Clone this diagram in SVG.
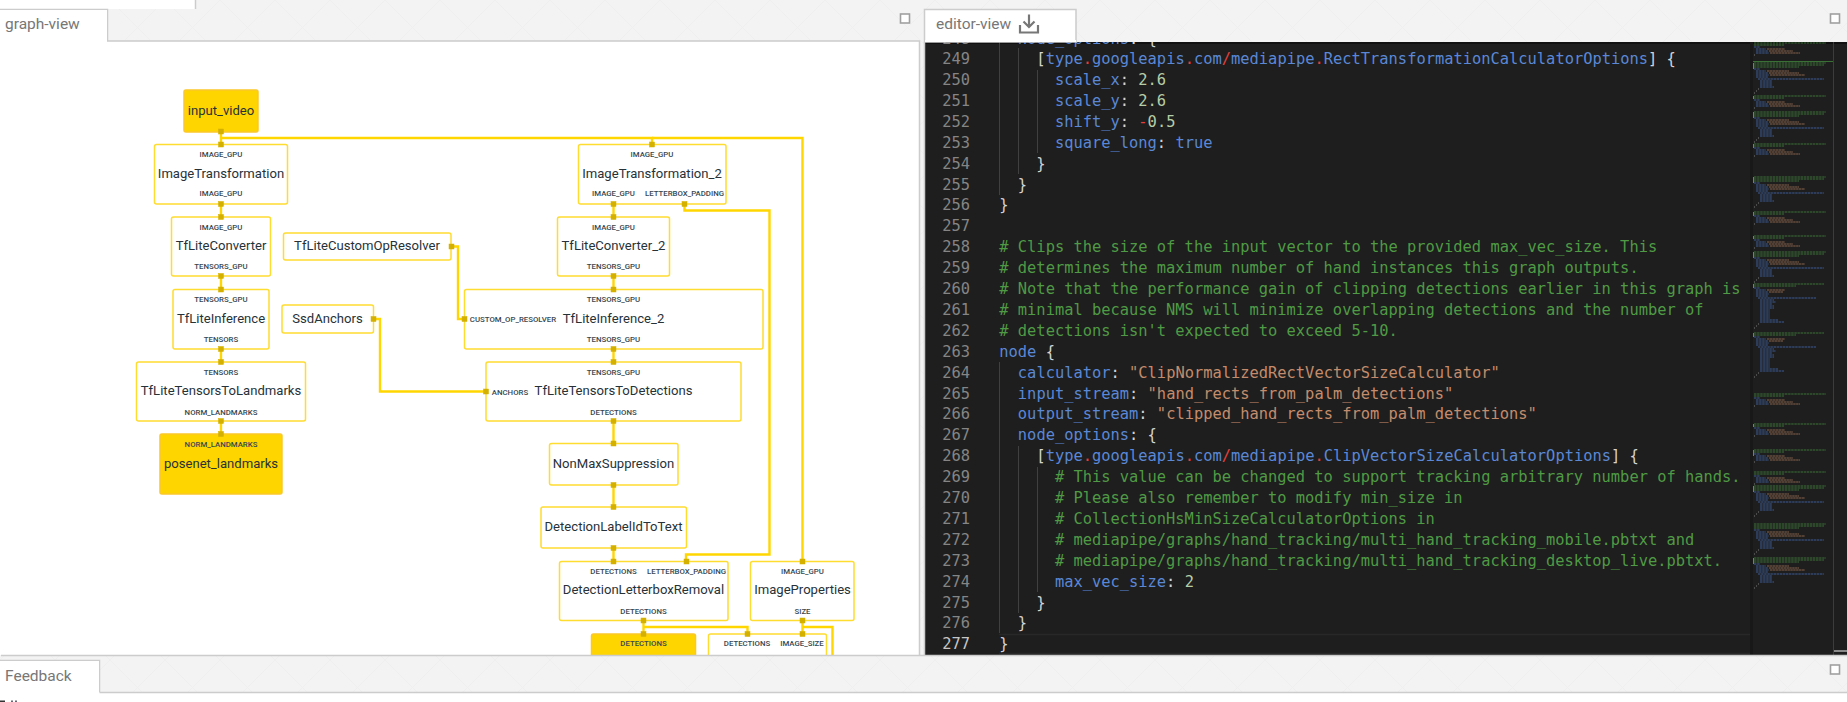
<svg xmlns="http://www.w3.org/2000/svg" width="1847" height="702" viewBox="0 0 1847 702">
<style>
text{font-family:Roboto,"Liberation Sans",sans-serif}
.n{fill:#fff;stroke:#ffdc30;stroke-width:1.5}
.y{fill:#ffd500;stroke:#fbc72a;stroke-width:1.5}
.nm{font-size:13.1px;fill:#263238;text-anchor:middle}
.lb{font-size:7.800px;font-weight:500;fill:#37474f;text-anchor:middle}
.p{fill:#d4b000;stroke:#d4b000;stroke-width:.5}
.e{fill:none;stroke:#ffd600;stroke-width:2.400}
.tab{font-size:15.500px;fill:#777}
.bd{fill:none;stroke:#ccc;stroke-width:1.5}
.ic{fill:#fff;stroke:#a0a0a0;stroke-width:1.6}
.code{font-family:"DejaVu Sans Mono","Liberation Mono",monospace;font-size:15.4px;fill:#d4d4d4}
.ln{font-family:"DejaVu Sans Mono","Liberation Mono",monospace;font-size:15.4px;fill:#858585;text-anchor:end}
.k{fill:#5a88d6}.d{fill:#e2403c}.v{fill:#b5cea8}.s{fill:#c48c6c}.c{fill:#4f9a45}
.g{stroke:#404040;stroke-width:1;fill:none}
.mg{fill:none;stroke:#3a7035;stroke-width:1.100;stroke-dasharray:2.500 .6}
.mb{fill:none;stroke:#3d5a92;stroke-width:1.100;stroke-dasharray:2.500 .6}
.mr{fill:none;stroke:#86634d;stroke-width:1.100;stroke-dasharray:2.500 .4}
.mw{fill:none;stroke:#777;stroke-width:1.100}
</style>
<defs>
<pattern id="bgp" width="55" height="55" patternUnits="userSpaceOnUse">
<rect width="55" height="55" fill="#f3f3f3"/>
<path d="M0 0L55 55M55 0L0 55" stroke="#efefef" stroke-width="1"/>
</pattern>
<clipPath id="graphClip"><rect x="0" y="42" width="919" height="613"/></clipPath>
<clipPath id="codeClip"><rect x="925" y="42" width="922" height="613"/></clipPath>
<g id="mA">
<path class="mg" d="M1 1h72M1 3h70M1 5h45"/>
<path class="mb" d="M1 7h6M3 9h10M3 11h12M3 13h13M3 15h12M5 17h66M7 19h12M7 21h12M7 23h12M7 25h14"/>
<path class="mr" d="M14 9h22M16 11h30M17 13h35"/>
<path class="mw" d="M5 27h1M3 29h1M1 31h1"/>
</g>
<g id="mB">
<path class="mg" d="M1 1h72M1 3h30"/>
<path class="mb" d="M1 5h6M3 7h10M3 9h12M3 11h13"/>
<path class="mr" d="M14 7h18M16 9h24M17 11h30"/>
<path class="mw" d="M1 13h1"/>
</g>
<g id="mD">
<path class="mg" d="M1 1h70M1 3h42"/>
<path class="mb" d="M1 5h6M3 7h10M3 9h12M3 11h13M3 13h12M5 15h58M7 17h14M7 19h16M7 21h12M7 23h14M7 25h14M7 27h10M7 29h10M7 31h10M7 33h10M7 35h10M7 37h18M7 39h24"/>
<path class="mr" d="M14 7h18M16 9h14"/>
<path class="mw" d="M5 41h1M3 43h1M1 45h1"/>
</g>
</defs>

<rect width="1847" height="702" fill="url(#bgp)"/>
<rect x="0" y="693" width="1847" height="9" fill="#fff"/>
<rect x="0" y="0" width="195" height="9" fill="#fff"/>
<path class="bd" d="M195.500 0V9"/>

<g id="graph-panel">
<rect x="0" y="41" width="919" height="614" fill="#fff"/>
<path class="bd" d="M107 41H919.500V655"/>
<path d="M0 9.500H107.500V41" fill="#fff" stroke="#ccc" stroke-width="1.500"/>
<rect x="0" y="10" width="107" height="32" fill="#fff"/>
<text class="tab" x="5" y="29">graph-view</text>
<rect class="ic" x="900.500" y="14" width="9" height="9"/>
</g>

<g clip-path="url(#graphClip)">
<g id="connectors">
<path class="e" d="M221 132V144.500"/>
<path class="e" d="M221 138H652V144.500"/>
<path class="e" d="M652 138H802.500V561.500"/>
<path class="e" d="M221 204V217"/>
<path class="e" d="M221 276V289.500"/>
<path class="e" d="M221 349V362"/>
<path class="e" d="M221 421V434"/>
<path class="e" d="M451 246.500H458V319H464.500"/>
<path class="e" d="M373 319H380V391.500H486"/>
<path class="e" d="M613.500 204V217"/>
<path class="e" d="M684.500 204V210.500H769.500V554.500H686V561.500"/>
<path class="e" d="M613.500 276V289.500"/>
<path class="e" d="M613.500 349V362"/>
<path class="e" d="M613.500 421V443.500"/>
<path class="e" d="M613.500 485V507"/>
<path class="e" d="M613.500 548V561.500"/>
<path class="e" d="M643.500 620.500V634"/>
<path class="e" d="M643.500 627H747.500V634"/>
<path class="e" d="M802.500 620.500V634"/>
<path class="e" d="M802.500 627H832.500V660"/>
</g>

<g id="input_video">
<rect class="y" x="184" y="90" width="74" height="42" rx="2"/>
<text class="nm" x="221" y="114.500">input_video</text>
<rect class="p" x="218.500" y="129" width="5" height="5"/>
</g>
<g id="ImageTransformation">
<rect class="n" x="154.500" y="144.500" width="133" height="59.500" rx="2"/>
<text class="lb" x="221" y="157">IMAGE_GPU</text>
<text class="nm" x="221" y="178">ImageTransformation</text>
<text class="lb" x="221" y="196">IMAGE_GPU</text>
<rect class="p" x="218.500" y="142" width="5" height="5"/>
<rect class="p" x="218.500" y="201.500" width="5" height="5"/>
</g>
<g id="TfLiteConverter">
<rect class="n" x="171.500" y="217" width="99" height="59" rx="2"/>
<text class="lb" x="221" y="229.500">IMAGE_GPU</text>
<text class="nm" x="221" y="250">TfLiteConverter</text>
<text class="lb" x="221" y="269">TENSORS_GPU</text>
<rect class="p" x="218.500" y="214.500" width="5" height="5"/>
<rect class="p" x="218.500" y="273.500" width="5" height="5"/>
</g>
<g id="TfLiteInference">
<rect class="n" x="173" y="289.500" width="96" height="59.500" rx="2"/>
<text class="lb" x="221" y="302">TENSORS_GPU</text>
<text class="nm" x="221" y="323">TfLiteInference</text>
<text class="lb" x="221" y="341.500">TENSORS</text>
<rect class="p" x="218.500" y="287" width="5" height="5"/>
<rect class="p" x="218.500" y="346.500" width="5" height="5"/>
</g>
<g id="TfLiteTensorsToLandmarks">
<rect class="n" x="136.500" y="362" width="169" height="59" rx="2"/>
<text class="lb" x="221" y="374.500">TENSORS</text>
<text class="nm" x="221" y="395">TfLiteTensorsToLandmarks</text>
<text class="lb" x="221" y="414.500">NORM_LANDMARKS</text>
<rect class="p" x="218.500" y="359.500" width="5" height="5"/>
<rect class="p" x="218.500" y="418.500" width="5" height="5"/>
</g>
<g id="posenet_landmarks">
<rect class="y" x="160" y="434" width="122" height="60" rx="2"/>
<text class="lb" x="221" y="446.500">NORM_LANDMARKS</text>
<text class="nm" x="221" y="468">posenet_landmarks</text>
<rect class="p" x="218.500" y="431.500" width="5" height="5"/>
</g>
<g id="TfLiteCustomOpResolver">
<rect class="n" x="283.500" y="233" width="167.500" height="27" rx="2"/>
<text class="nm" x="367" y="250">TfLiteCustomOpResolver</text>
<rect class="p" x="449" y="244" width="5" height="5"/>
</g>
<g id="SsdAnchors">
<rect class="n" x="282" y="305" width="91.500" height="28" rx="2"/>
<text class="nm" x="327.500" y="323">SsdAnchors</text>
<rect class="p" x="371" y="316.500" width="5" height="5"/>
</g>
<g id="ImageTransformation_2">
<rect class="n" x="578.500" y="144.500" width="147.500" height="59.500" rx="2"/>
<text class="lb" x="652" y="157">IMAGE_GPU</text>
<text class="nm" x="652" y="178">ImageTransformation_2</text>
<text class="lb" x="613.500" y="196">IMAGE_GPU</text>
<text class="lb" x="684.500" y="196">LETTERBOX_PADDING</text>
<rect class="p" x="649.500" y="142" width="5" height="5"/>
<rect class="p" x="611" y="201.500" width="5" height="5"/>
<rect class="p" x="682" y="201.500" width="5" height="5"/>
</g>
<g id="TfLiteConverter_2">
<rect class="n" x="557.500" y="217" width="112" height="59" rx="2"/>
<text class="lb" x="613.500" y="229.500">IMAGE_GPU</text>
<text class="nm" x="613.500" y="250">TfLiteConverter_2</text>
<text class="lb" x="613.500" y="269">TENSORS_GPU</text>
<rect class="p" x="611" y="214.500" width="5" height="5"/>
<rect class="p" x="611" y="273.500" width="5" height="5"/>
</g>
<g id="TfLiteInference_2">
<rect class="n" x="464.500" y="289.500" width="298.500" height="59.500" rx="2"/>
<text class="lb" x="613.500" y="302">TENSORS_GPU</text>
<text class="lb" x="513" y="321.500">CUSTOM_OP_RESOLVER</text>
<text class="nm" x="613.500" y="323">TfLiteInference_2</text>
<text class="lb" x="613.500" y="341.500">TENSORS_GPU</text>
<rect class="p" x="611" y="287" width="5" height="5"/>
<rect class="p" x="462" y="316.500" width="5" height="5"/>
<rect class="p" x="611" y="346.500" width="5" height="5"/>
</g>
<g id="TfLiteTensorsToDetections">
<rect class="n" x="486" y="362" width="255" height="59" rx="2"/>
<text class="lb" x="510" y="394.500">ANCHORS</text>
<text class="nm" x="613.500" y="395">TfLiteTensorsToDetections</text>
<text class="lb" x="613.500" y="374.500">TENSORS_GPU</text>
<text class="lb" x="613.500" y="414.500">DETECTIONS</text>
<rect class="p" x="611" y="359.500" width="5" height="5"/>
<rect class="p" x="483.500" y="389" width="5" height="5"/>
<rect class="p" x="611" y="418.500" width="5" height="5"/>
</g>
<g id="NonMaxSuppression">
<rect class="n" x="549.500" y="443.500" width="128.500" height="41.500" rx="2"/>
<text class="nm" x="613.500" y="468">NonMaxSuppression</text>
<rect class="p" x="611" y="441" width="5" height="5"/>
<rect class="p" x="611" y="482.500" width="5" height="5"/>
</g>
<g id="DetectionLabelIdToText">
<rect class="n" x="541" y="507" width="145.500" height="41" rx="2"/>
<text class="nm" x="613.500" y="531">DetectionLabelIdToText</text>
<rect class="p" x="611" y="504.500" width="5" height="5"/>
<rect class="p" x="611" y="545.500" width="5" height="5"/>
</g>
<g id="DetectionLetterboxRemoval">
<rect class="n" x="559.500" y="561.500" width="168.500" height="59" rx="2"/>
<text class="lb" x="613.500" y="573.500">DETECTIONS</text>
<text class="lb" x="686.500" y="573.500">LETTERBOX_PADDING</text>
<text class="nm" x="643.500" y="594">DetectionLetterboxRemoval</text>
<text class="lb" x="643.500" y="613.500">DETECTIONS</text>
<rect class="p" x="611" y="559" width="5" height="5"/>
<rect class="p" x="684" y="559" width="5" height="5"/>
<rect class="p" x="641" y="618" width="5" height="5"/>
</g>
<g id="ImageProperties">
<rect class="n" x="750.500" y="561.500" width="103.500" height="59" rx="2"/>
<text class="lb" x="802.500" y="573.500">IMAGE_GPU</text>
<text class="nm" x="802.500" y="594">ImageProperties</text>
<text class="lb" x="802.500" y="613.500">SIZE</text>
<rect class="p" x="800" y="559" width="5" height="5"/>
<rect class="p" x="800" y="618" width="5" height="5"/>
</g>
<g id="detections_out">
<rect class="y" x="591.500" y="634" width="104" height="60" rx="2"/>
<text class="lb" x="643.500" y="646">DETECTIONS</text>
<rect class="p" x="641" y="631.500" width="5" height="5"/>
</g>
<g id="render_node">
<rect class="n" x="708.500" y="634" width="118" height="60" rx="2"/>
<text class="lb" x="747" y="646">DETECTIONS</text>
<text class="lb" x="802" y="646">IMAGE_SIZE</text>
<rect class="p" x="745" y="631.500" width="5" height="5"/>
<rect class="p" x="800" y="631.500" width="5" height="5"/>
</g>
</g>

<g id="editor-panel">
<rect x="925" y="42" width="922" height="613" fill="#1e1e1e"/>
<rect x="925" y="42" width="922" height="2" fill="#111"/>
<g clip-path="url(#codeClip)">
<path d="M999 634.500H1753M999 653.500H1753" stroke="#282828" stroke-width="1.500"/>
<path class="g" d="M999.500 42V195M1018.500 48V174M1037.500 70V153M999.500 362V633M1018.500 446V613M1037.500 467V592"/>
<g id="line-numbers">
<text class="ln" x="970" y="44">248</text>
<text class="ln" x="970" y="64.100">249</text>
<text class="ln" x="970" y="85">250</text>
<text class="ln" x="970" y="105.900">251</text>
<text class="ln" x="970" y="126.800">252</text>
<text class="ln" x="970" y="147.700">253</text>
<text class="ln" x="970" y="168.600">254</text>
<text class="ln" x="970" y="189.500">255</text>
<text class="ln" x="970" y="210.400">256</text>
<text class="ln" x="970" y="231.300">257</text>
<text class="ln" x="970" y="252.200">258</text>
<text class="ln" x="970" y="273.100">259</text>
<text class="ln" x="970" y="294">260</text>
<text class="ln" x="970" y="314.900">261</text>
<text class="ln" x="970" y="335.800">262</text>
<text class="ln" x="970" y="356.700">263</text>
<text class="ln" x="970" y="377.600">264</text>
<text class="ln" x="970" y="398.500">265</text>
<text class="ln" x="970" y="419.400">266</text>
<text class="ln" x="970" y="440.300">267</text>
<text class="ln" x="970" y="461.200">268</text>
<text class="ln" x="970" y="482.100">269</text>
<text class="ln" x="970" y="503">270</text>
<text class="ln" x="970" y="523.900">271</text>
<text class="ln" x="970" y="544.800">272</text>
<text class="ln" x="970" y="565.700">273</text>
<text class="ln" x="970" y="586.600">274</text>
<text class="ln" x="970" y="607.500">275</text>
<text class="ln" x="970" y="628.400">276</text>
<text class="ln" x="970" y="649.300" style="fill:#c6c6c6">277</text>
</g>
<g id="code" xml:space="preserve">
<text class="code" x="999.300" y="44" xml:space="preserve">  <tspan class="k">node_options</tspan>: {</text>
<text class="code" x="999.300" y="64.100" xml:space="preserve">    [<tspan class="k">type</tspan><tspan class="d">.</tspan><tspan class="k">googleapis</tspan><tspan class="d">.</tspan><tspan class="k">com</tspan><tspan class="d">/</tspan><tspan class="k">mediapipe</tspan><tspan class="d">.</tspan><tspan class="k">RectTransformationCalculatorOptions</tspan>] {</text>
<text class="code" x="999.300" y="85" xml:space="preserve">      <tspan class="k">scale_x</tspan>: <tspan class="v">2.6</tspan></text>
<text class="code" x="999.300" y="105.900" xml:space="preserve">      <tspan class="k">scale_y</tspan>: <tspan class="v">2.6</tspan></text>
<text class="code" x="999.300" y="126.800" xml:space="preserve">      <tspan class="k">shift_y</tspan>: <tspan class="d">-</tspan><tspan class="v">0.5</tspan></text>
<text class="code" x="999.300" y="147.700" xml:space="preserve">      <tspan class="k">square_long</tspan>: <tspan class="k">true</tspan></text>
<text class="code" x="999.300" y="168.600" xml:space="preserve">    }</text>
<text class="code" x="999.300" y="189.500" xml:space="preserve">  }</text>
<text class="code" x="999.300" y="210.400" xml:space="preserve">}</text>
<text class="code c" x="999.300" y="252.200" xml:space="preserve"># Clips the size of the input vector to the provided max_vec_size. This</text>
<text class="code c" x="999.300" y="273.100" xml:space="preserve"># determines the maximum number of hand instances this graph outputs.</text>
<text class="code c" x="999.300" y="294" xml:space="preserve"># Note that the performance gain of clipping detections earlier in this graph is</text>
<text class="code c" x="999.300" y="314.900" xml:space="preserve"># minimal because NMS will minimize overlapping detections and the number of</text>
<text class="code c" x="999.300" y="335.800" xml:space="preserve"># detections isn't expected to exceed 5-10.</text>
<text class="code" x="999.300" y="356.700" xml:space="preserve"><tspan class="k">node</tspan> {</text>
<text class="code" x="999.300" y="377.600" xml:space="preserve">  <tspan class="k">calculator</tspan>: <tspan class="s">"ClipNormalizedRectVectorSizeCalculator"</tspan></text>
<text class="code" x="999.300" y="398.500" xml:space="preserve">  <tspan class="k">input_stream</tspan>: <tspan class="s">"hand_rects_from_palm_detections"</tspan></text>
<text class="code" x="999.300" y="419.400" xml:space="preserve">  <tspan class="k">output_stream</tspan>: <tspan class="s">"clipped_hand_rects_from_palm_detections"</tspan></text>
<text class="code" x="999.300" y="440.300" xml:space="preserve">  <tspan class="k">node_options</tspan>: {</text>
<text class="code" x="999.300" y="461.200" xml:space="preserve">    [<tspan class="k">type</tspan><tspan class="d">.</tspan><tspan class="k">googleapis</tspan><tspan class="d">.</tspan><tspan class="k">com</tspan><tspan class="d">/</tspan><tspan class="k">mediapipe</tspan><tspan class="d">.</tspan><tspan class="k">ClipVectorSizeCalculatorOptions</tspan>] {</text>
<text class="code c" x="999.300" y="482.100" xml:space="preserve">      # This value can be changed to support tracking arbitrary number of hands.</text>
<text class="code c" x="999.300" y="503" xml:space="preserve">      # Please also remember to modify min_size in</text>
<text class="code c" x="999.300" y="523.900" xml:space="preserve">      # CollectionHsMinSizeCalculatorOptions in</text>
<text class="code c" x="999.300" y="544.800" xml:space="preserve">      # mediapipe/graphs/hand_tracking/multi_hand_tracking_mobile.pbtxt and</text>
<text class="code c" x="999.300" y="565.700" xml:space="preserve">      # mediapipe/graphs/hand_tracking/multi_hand_tracking_desktop_live.pbtxt.</text>
<text class="code" x="999.300" y="586.600" xml:space="preserve">      <tspan class="k">max_vec_size</tspan>: <tspan class="v">2</tspan></text>
<text class="code" x="999.300" y="607.500" xml:space="preserve">    }</text>
<text class="code" x="999.300" y="628.400" xml:space="preserve">  }</text>
<text class="code" x="999.300" y="649.300" xml:space="preserve">}</text>
</g>
</g>
<g id="minimap">
<rect x="1750" y="42" width="3" height="613" fill="#181818"/>
<path d="M1753 61.500H1833" stroke="#3a7035" stroke-width="1"/>
<path d="M1753.500 63V69M1753.500 96V99M1753.500 112V118M1753.500 144V148M1753.500 177V183M1753.500 212V216M1753.500 236V239M1753.500 252V258M1753.500 284V288M1753.500 333V337M1753.500 424V427M1753.500 450V456M1753.500 486V492M1753.500 558V564" stroke="#4f9a45" stroke-width="1"/>
<use href="#mB" x="1753" y="42"/>
<use href="#mA" x="1753" y="62"/>
<use href="#mB" x="1753" y="95"/>
<use href="#mA" x="1753" y="111"/>
<use href="#mB" x="1753" y="143"/>
<use href="#mA" x="1753" y="176"/>
<use href="#mB" x="1753" y="211"/>
<use href="#mB" x="1753" y="235"/>
<use href="#mA" x="1753" y="251"/>
<use href="#mD" x="1753" y="283"/>
<use href="#mD" x="1753" y="332"/>
<use href="#mB" x="1753" y="393"/>
<use href="#mB" x="1753" y="423"/>
<use href="#mB" x="1753" y="449"/>
<use href="#mB" x="1753" y="471"/>
<use href="#mA" x="1753" y="485"/>
<use href="#mA" x="1753" y="523"/>
<use href="#mA" x="1753" y="557"/>
<path d="M1833.500 42V655" stroke="#3c3c3c" stroke-width="1"/>
<rect x="1834" y="650" width="13" height="2" fill="#8a8a8a"/>
</g>
<path class="bd" d="M924.500 42V655"/>
</g>

<g id="editor-tab">
<path d="M924.500 42V9.500H1076V42Z" fill="#fff" stroke="#ccc" stroke-width="1.500"/>
<rect x="925" y="40" width="151" height="2" fill="#fff"/>
<text class="tab" x="936" y="29">editor-view</text>
<path d="M1020 25V32.500H1038V25M1029 14.500V27M1023.500 21.500L1029 27L1034.500 21.500" fill="none" stroke="#777" stroke-width="2.200"/>
<rect class="ic" x="1830.500" y="14" width="9" height="9"/>
</g>

<path d="M1 655.500H1847" stroke="#ccc" stroke-width="1.500"/>
<path d="M99.500 692.500H1847" stroke="#ccc" stroke-width="1.500"/>
<g id="feedback-tab">
<path d="M0 660.500H99.500V692" fill="#fff" stroke="#ccc" stroke-width="1.500"/>
<rect x="0" y="661" width="99" height="41" fill="#fff"/>
<text class="tab" x="5" y="681">Feedback</text>
<rect class="ic" x="1830.500" y="665" width="9" height="9"/>
<rect x="0" y="700.500" width="5" height="1.500" fill="#333"/>
<rect x="11" y="700.500" width="2" height="1.500" fill="#667"/>
<rect x="15" y="700.500" width="2" height="1.500" fill="#667"/>
</g>
</svg>
